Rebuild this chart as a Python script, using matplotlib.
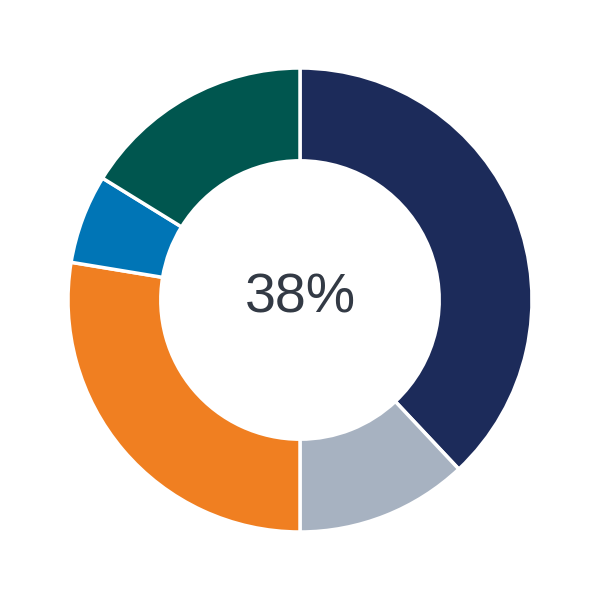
import matplotlib
matplotlib.use("Agg")
import matplotlib.pyplot as plt

# slice data, clockwise from top
labels = ["A", "B", "C", "D", "E"]
values = [38, 12, 27.6, 6.2, 16.2]
colors = ["#1c2b5a", "#a7b2c1", "#f07f21", "#0075b6", "#00564f"]
center_text = "38%"

fig, ax = plt.subplots(figsize=(6, 6), dpi=100)
fig.subplots_adjust(left=0, right=1, top=1, bottom=0)

ax.pie(
    values,
    colors=colors,
    startangle=90,
    counterclock=False,
    radius=1.0,
    wedgeprops=dict(width=0.4, edgecolor="white", linewidth=2.5),
)
ax.text(0, 0.005, center_text, ha="center", va="center",
        fontsize=40, color="#333a45", family="Liberation Sans")

ax.set_aspect("equal")
lim = 300 / 232
ax.set_xlim(-lim, lim)
ax.set_ylim(-lim, lim)
ax.axis("off")

plt.savefig("out.png", dpi=100, facecolor="white")
